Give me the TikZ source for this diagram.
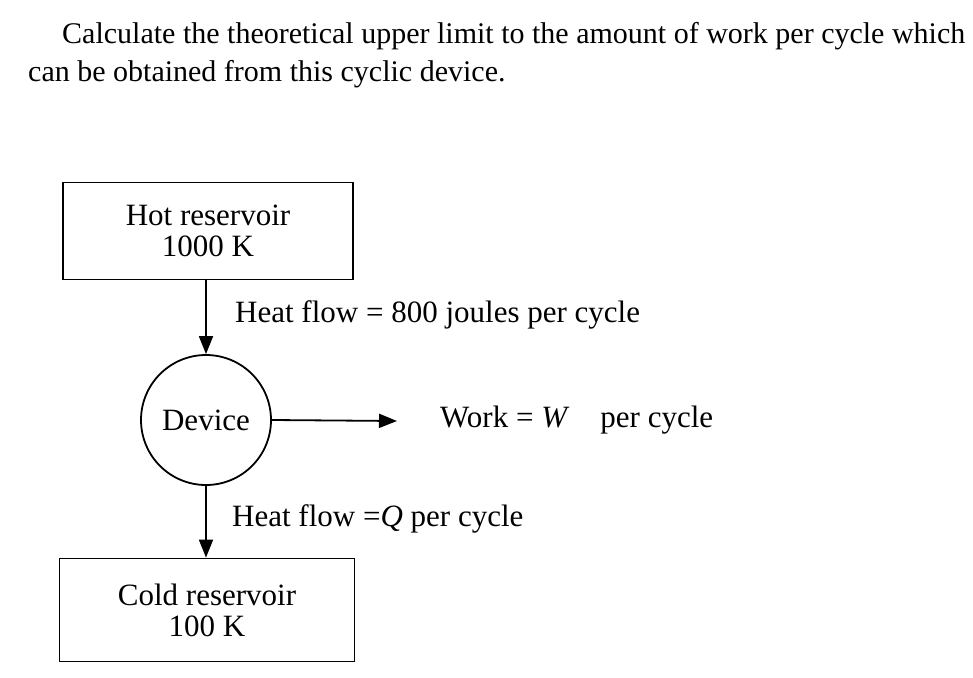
\documentclass[tikz,border=0pt]{standalone}
\usepackage{fontspec}
\setmainfont{Liberation Serif}
\usetikzlibrary{arrows.meta}
\begin{document}
\begin{tikzpicture}[x=1pt,y=-1pt,
  box/.style={draw,line width=1.8pt,minimum width=290pt,minimum height=97pt,align=center,font=\fontsize{31}{31}\selectfont},
  lbl/.style={anchor=west,inner sep=0pt,font=\fontsize{31}{33}\selectfont},
  flow/.style={line width=1.8pt,-{Triangle[length=18pt,width=14pt]}}]
\useasboundingbox (0,0) rectangle (973,677);
\node[lbl,font=\fontsize{30}{32}\selectfont] (t1) at (62,36) {Calculate the theoretical upper limit to the amount of work per cycle which};
\node[lbl,font=\fontsize{30}{32}\selectfont] (t2) at (28,74) {can be obtained from this cyclic device.};
\node[box] (hot) at (208,231) {Hot reservoir\\1000 K};
\node[draw,circle,line width=1.8pt,minimum size=130pt,inner sep=0pt,font=\fontsize{31}{33}\selectfont] (dev) at (206,420) {Device};
\node[box,minimum height=103pt,minimum width=295pt] (cold) at (207,610) {Cold reservoir\\100 K};
\coordinate (wend) at (397,421);
\draw[flow] (hot.south -| dev.north) -- (dev.north);
\draw[flow] (dev.east) -- (wend);
\draw[flow] (dev.south) -- (dev.south |- cold.north);
\node[lbl] (h1) at (235,315) {Heat flow = 800 joules per cycle};
\node[lbl] (w) at (440,420) {Work = \textit{W}\quad per cycle};
\node[lbl] (h2) at (232,519) {Heat flow =\textit{Q}\ per cycle};
\end{tikzpicture}
\end{document}
